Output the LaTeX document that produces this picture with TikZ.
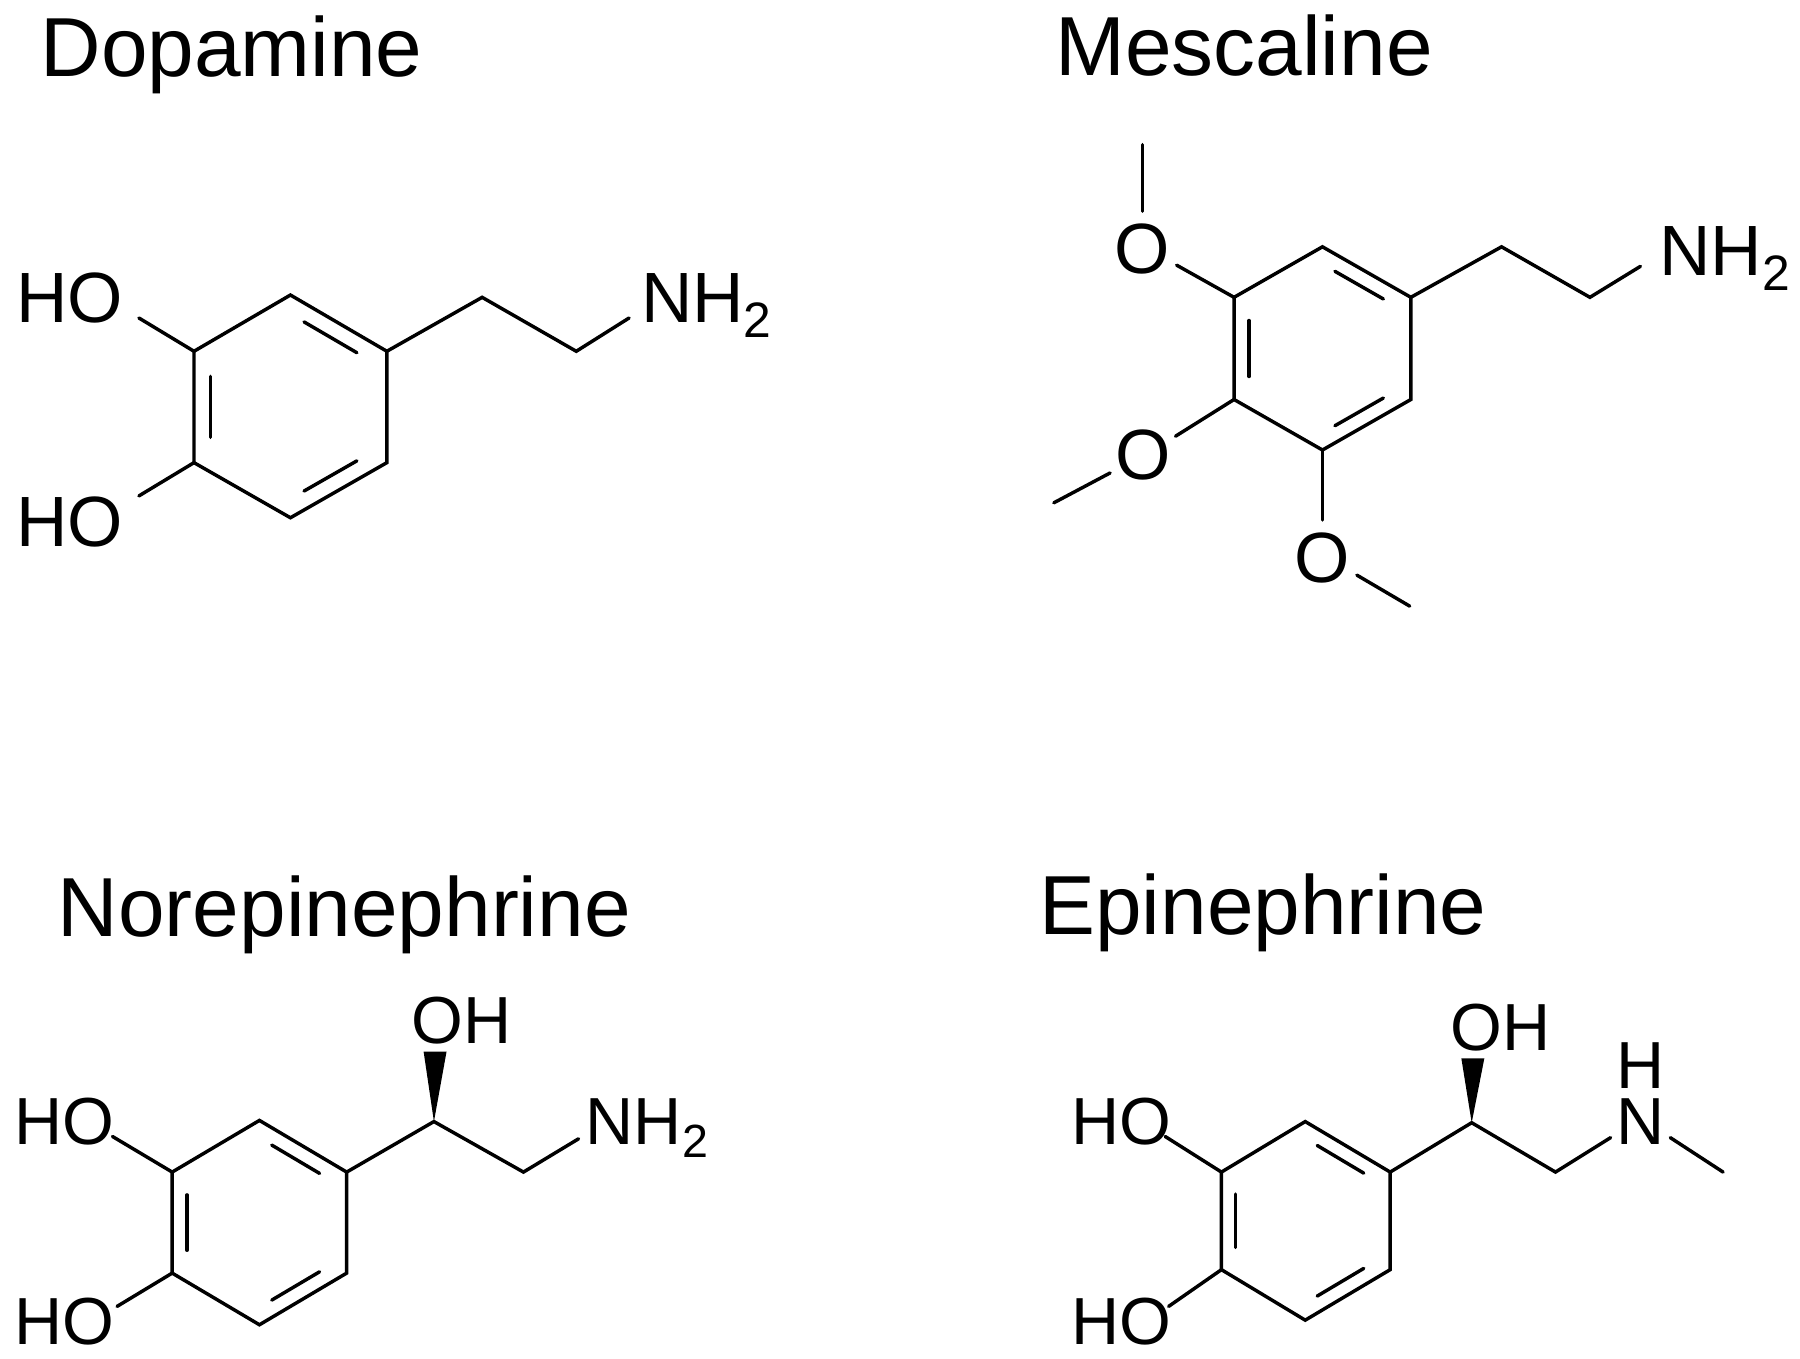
\documentclass[tikz,border=0pt]{standalone}
\usepackage{fontspec}
\setmainfont{Liberation Sans}
\usetikzlibrary{calc}
\tikzset{
  bond/.style={line width=1.5pt, line cap=round},
  title/.style={font=\fontsize{36.5}{39}\selectfont, inner sep=0pt, anchor=base west},
  atom/.style={font=\fontsize{31}{33}\selectfont, inner sep=0pt},
  atomsm/.style={font=\fontsize{29}{31}\selectfont, inner sep=0pt},
}
% inner line of a double bond: #1,#2 ring atoms, #3 ring centre
\newcommand{\innerbond}[3]{\draw[bond] ($(#1)!0.17!(#2)!0.17!(#3)$) -- ($(#2)!0.17!(#1)!0.17!(#3)$);}
\begin{document}
\begin{tikzpicture}[x=0.5pt,y=-0.5pt]
  \useasboundingbox (0,0) rectangle (1568,1183);

  % Dopamine
  \node[title] (tDop) at (35,67) {Dopamine};
  \coordinate (d1) at (169,306); \coordinate (d2) at (253,257); \coordinate (d3) at (337,306);
  \coordinate (d4) at (337,403); \coordinate (d5) at (253,451); \coordinate (d6) at (169,403);
  \coordinate (dc) at (253,354);
  \coordinate (d7) at (420,259); \coordinate (d8) at (502,306);
  \coordinate (dN) at (548,277); \coordinate (dO1) at (121,277); \coordinate (dO2) at (121,432);
  \draw[bond] (d1) -- (d2) -- (d3) -- (d4) -- (d5) -- (d6) -- cycle;
  \innerbond{d2}{d3}{dc} \innerbond{d4}{d5}{dc} \innerbond{d6}{d1}{dc}
  \draw[bond] (d3) -- (d7) -- (d8) -- (dN);
  \draw[bond] (d1) -- (dO1); \draw[bond] (d6) -- (dO2);
  \node[atom, anchor=base west] (dHO1) at (14,281) {HO};
  \node[atom, anchor=base west] (dHO2) at (14,476) {HO};
  \node[atom, anchor=base west] (dNH) at (558,281) {NH\textsubscript{2}};

  % Mescaline
  \node[title] (tMes) at (919,66) {Mescaline};
  \coordinate (m1) at (1075,259); \coordinate (m2) at (1152,215); \coordinate (m3) at (1229,259);
  \coordinate (m4) at (1229,348); \coordinate (m5) at (1152,392); \coordinate (m6) at (1075,348);
  \coordinate (mc) at (1152,304);
  \coordinate (m7) at (1308,215); \coordinate (m8) at (1385,259); \coordinate (mN) at (1429,232);
  \draw[bond] (m1) -- (m2) -- (m3) -- (m4) -- (m5) -- (m6) -- cycle;
  \innerbond{m2}{m3}{mc} \innerbond{m4}{m5}{mc} \innerbond{m6}{m1}{mc}
  \draw[bond] (m3) -- (m7) -- (m8) -- (mN);
  \node[atom] (mO1) at (995,217) {O};
  \node[atom] (mO2) at (996,396) {O};
  \node[atom] (mO3) at (1152,486) {O};
  \coordinate (mO1b) at (1025,231); \coordinate (mO1t) at (995,184); \coordinate (mMe1) at (995,126);
  \coordinate (mO2r) at (1024,380); \coordinate (mO2l) at (967,412); \coordinate (mMe2) at (918,438);
  \coordinate (mO3t) at (1152,453); \coordinate (mO3r) at (1182,501); \coordinate (mMe3) at (1228,528);
  \draw[bond] (m1) -- (mO1b); \draw[bond] (mO1t) -- (mMe1);
  \draw[bond] (m6) -- (mO2r); \draw[bond] (mO2l) -- (mMe2);
  \draw[bond] (m5) -- (mO3t); \draw[bond] (mO3r) -- (mMe3);
  \node[atom, anchor=base west] (mNH) at (1445,240) {NH\textsubscript{2}};

  % Norepinephrine
  \node[title] (tNor) at (50,816) {Norepinephrine};
  \coordinate (n1) at (150,1021); \coordinate (n2) at (226,976); \coordinate (n3) at (302,1021);
  \coordinate (n4) at (302,1109); \coordinate (n5) at (226,1154); \coordinate (n6) at (150,1109);
  \coordinate (nc) at (226,1065);
  \coordinate (n7) at (378,977); \coordinate (n8) at (456,1021); \coordinate (nN) at (504,992);
  \coordinate (nO1) at (98,990); \coordinate (nO2) at (102,1138);
  \coordinate (nW1) at (369,916); \coordinate (nW2) at (389,916);
  \draw[bond] (n1) -- (n2) -- (n3) -- (n4) -- (n5) -- (n6) -- cycle;
  \innerbond{n2}{n3}{nc} \innerbond{n4}{n5}{nc} \innerbond{n6}{n1}{nc}
  \draw[bond] (n3) -- (n7) -- (n8) -- (nN);
  \draw[bond] (n1) -- (nO1); \draw[bond] (n6) -- (nO2);
  \fill (n7) -- (nW1) -- (nW2) -- cycle;
  \node[atomsm, anchor=base west] (nHO1) at (12,997) {HO};
  \node[atomsm, anchor=base west] (nHO2) at (12,1171) {HO};
  \node[atomsm, anchor=base west] (nOH) at (358,909) {OH};
  \node[atomsm, anchor=base west] (nNH) at (510,997) {NH\textsubscript{2}};

  % Epinephrine
  \node[title] (tEpi) at (905,814) {Epinephrine};
  \coordinate (e1) at (1064,1021); \coordinate (e2) at (1137,977); \coordinate (e3) at (1211,1021);
  \coordinate (e4) at (1211,1106); \coordinate (e5) at (1137,1150); \coordinate (e6) at (1064,1106);
  \coordinate (ec) at (1137,1063);
  \coordinate (e7) at (1282,978); \coordinate (e8) at (1355,1021); \coordinate (eN) at (1403,991);
  \coordinate (eO1) at (1015,990); \coordinate (eO2) at (1018,1138);
  \coordinate (eW1) at (1273,922); \coordinate (eW2) at (1293,922);
  \coordinate (eNr) at (1455,991); \coordinate (eMe) at (1501,1021);
  \draw[bond] (e1) -- (e2) -- (e3) -- (e4) -- (e5) -- (e6) -- cycle;
  \innerbond{e2}{e3}{ec} \innerbond{e4}{e5}{ec} \innerbond{e6}{e1}{ec}
  \draw[bond] (e3) -- (e7) -- (e8) -- (eN);
  \draw[bond] (e1) -- (eO1); \draw[bond] (e6) -- (eO2);
  \draw[bond] (eNr) -- (eMe);
  \fill (e7) -- (eW1) -- (eW2) -- cycle;
  \node[atomsm, anchor=base west] (eHO1) at (933,997) {HO};
  \node[atomsm, anchor=base west] (eHO2) at (933,1171) {HO};
  \node[atomsm, anchor=base west] (eOH) at (1263,915) {OH};
  \node[atomsm, anchor=base] (eNl) at (1429,997) {N};
  \node[atomsm, anchor=base] (eH) at (1429,948) {H};
\end{tikzpicture}
\end{document}
